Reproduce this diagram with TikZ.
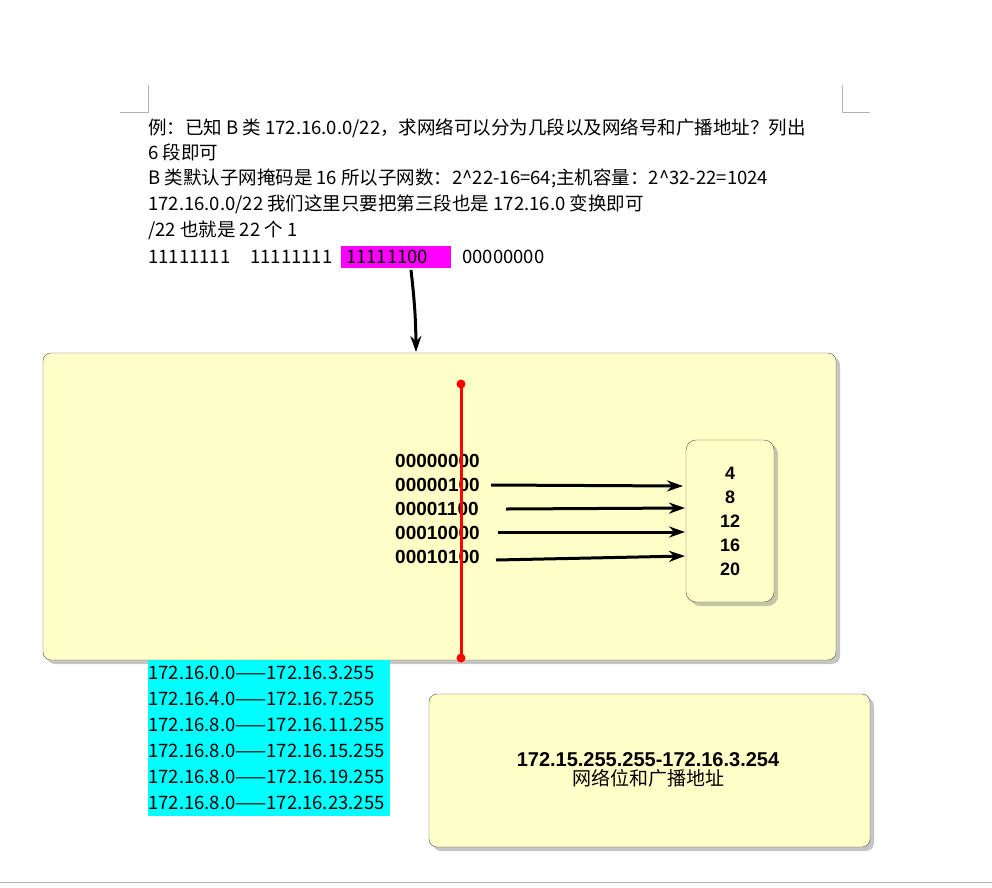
\documentclass[tikz,border=0pt]{standalone}
\usepackage{fontspec}
\setmainfont{Carlito}
\newfontfamily\cjk{Noto Sans CJK SC}
\newfontfamily\arialb{Liberation Sans}
\usetikzlibrary{arrows.meta,shadows}
\definecolor{boxy}{HTML}{FFFFC8}
\definecolor{cy}{HTML}{00FFFF}
\definecolor{mg}{HTML}{FF00FF}
\begin{document}
\begin{tikzpicture}[x=1pt,y=-1pt,
 txt/.style={anchor=west,inner sep=0pt,font=\cjk\fontsize{18.5}{18.5}\selectfont},
 bin/.style={anchor=west,inner sep=0pt,font=\arialb\bfseries\fontsize{19}{19}\selectfont},
 ybox/.style={draw=black!70,fill=boxy,rounded corners=8pt,drop shadow={shadow xshift=4pt,shadow yshift=-4pt,opacity=0.45}},
 arr/.style={line width=3pt,-{Stealth[length=16pt,width=11pt]}},
 cyanl/.style={anchor=west,fill=cy,inner sep=0pt,minimum height=26pt,minimum width=242pt,text width=242pt,font=\cjk\fontsize{18.5}{18.5}\selectfont}]
\useasboundingbox (0,0) rectangle (992,887);
\fill[white] (0,0) rectangle (992,887);
\draw[gray!60] (0,882) -- (992,882);
\draw[gray!60] (148,85) -- (148,112) -- (120,112);
\draw[gray!60] (842,85) -- (842,112) -- (870,112);
\node[txt] (l1) at (148,128) {例：已知 B 类 172.16.0.0/22，求网络可以分为几段以及网络号和广播地址？列出};
\node[txt] (l2) at (148,152) {6 段即可};
\node[txt] (l3) at (148,178) {B 类默认子网掩码是 16 所以子网数：2\^{}22-16=64;主机容量：2\^{}32-22=1024};
\node[txt] (l4) at (148,204) {172.16.0.0/22 我们这里只要把第三段也是 172.16.0 变换即可};
\node[txt] (l5) at (148,230) {/22 也就是 22 个 1};
\node[txt] (l6) at (148,257) {11111111};
\node[txt] (l6b) at (250,257) {11111111};
\node[fill=mg,minimum width=110pt,minimum height=22pt,inner sep=0pt,font=\cjk\fontsize{18.5}{18.5}\selectfont,text width=100pt] (mgb) at (396,257) {11111100};
\node[txt] (l7) at (462,257) {00000000};
\node[ybox,minimum width=793pt,minimum height=307pt] (big) at (439.5,506.5) {};
\draw[arr] (411,270) to[bend left=3] (416,352);
\node[ybox,minimum width=88pt,minimum height=162pt,rounded corners=10pt] (small) at (730,521) {};
\node[align=center,font=\arialb\bfseries\fontsize{18}{24}\selectfont] (nums) at (730,521) {4\\8\\12\\16\\20};
\node[bin] (b1) at (395,461) {00000000};
\node[bin] (b2) at (395,485) {00000100};
\node[bin] (b3) at (395,509) {00001100};
\node[bin] (b4) at (395,533) {00010000};
\node[bin] (b5) at (395,557) {00010100};
\coordinate (s2) at (491,485); \coordinate (e2) at (683,486);
\coordinate (s3) at (506,509); \coordinate (e3) at (685,508);
\coordinate (s4) at (498,532); \coordinate (e4) at (685,532);
\coordinate (s5) at (496,560); \coordinate (e5) at (685,556);
\foreach \i in {2,3,4,5} \draw[arr] (s\i) -- (e\i);
\coordinate (rt) at (461,384); \coordinate (rb) at (461,658);
\draw[red,line width=3pt] (rt) -- (rb);
\fill[red] (rt) circle (4.5pt) (rb) circle (4.5pt);
\node[cyanl] (c1) at (148,673) {172.16.0.0——172.16.3.255};
\node[cyanl] (c2) at (148,699) {172.16.4.0——172.16.7.255};
\node[cyanl] (c3) at (148,725) {172.16.8.0——172.16.11.255};
\node[cyanl] (c4) at (148,751) {172.16.8.0——172.16.15.255};
\node[cyanl] (c5) at (148,777) {172.16.8.0——172.16.19.255};
\node[cyanl] (c6) at (148,803) {172.16.8.0——172.16.23.255};
\node[ybox,minimum width=441pt,minimum height=153pt] (b3box) at (649.5,770.5) {};
\node[align=center] (b3t) at (648,770) {{\arialb\bfseries\fontsize{20}{22}\selectfont 172.15.255.255-172.16.3.254}\\[1pt]{\cjk\fontsize{19}{22}\selectfont 网络位和广播地址}};
\end{tikzpicture}
\end{document}
